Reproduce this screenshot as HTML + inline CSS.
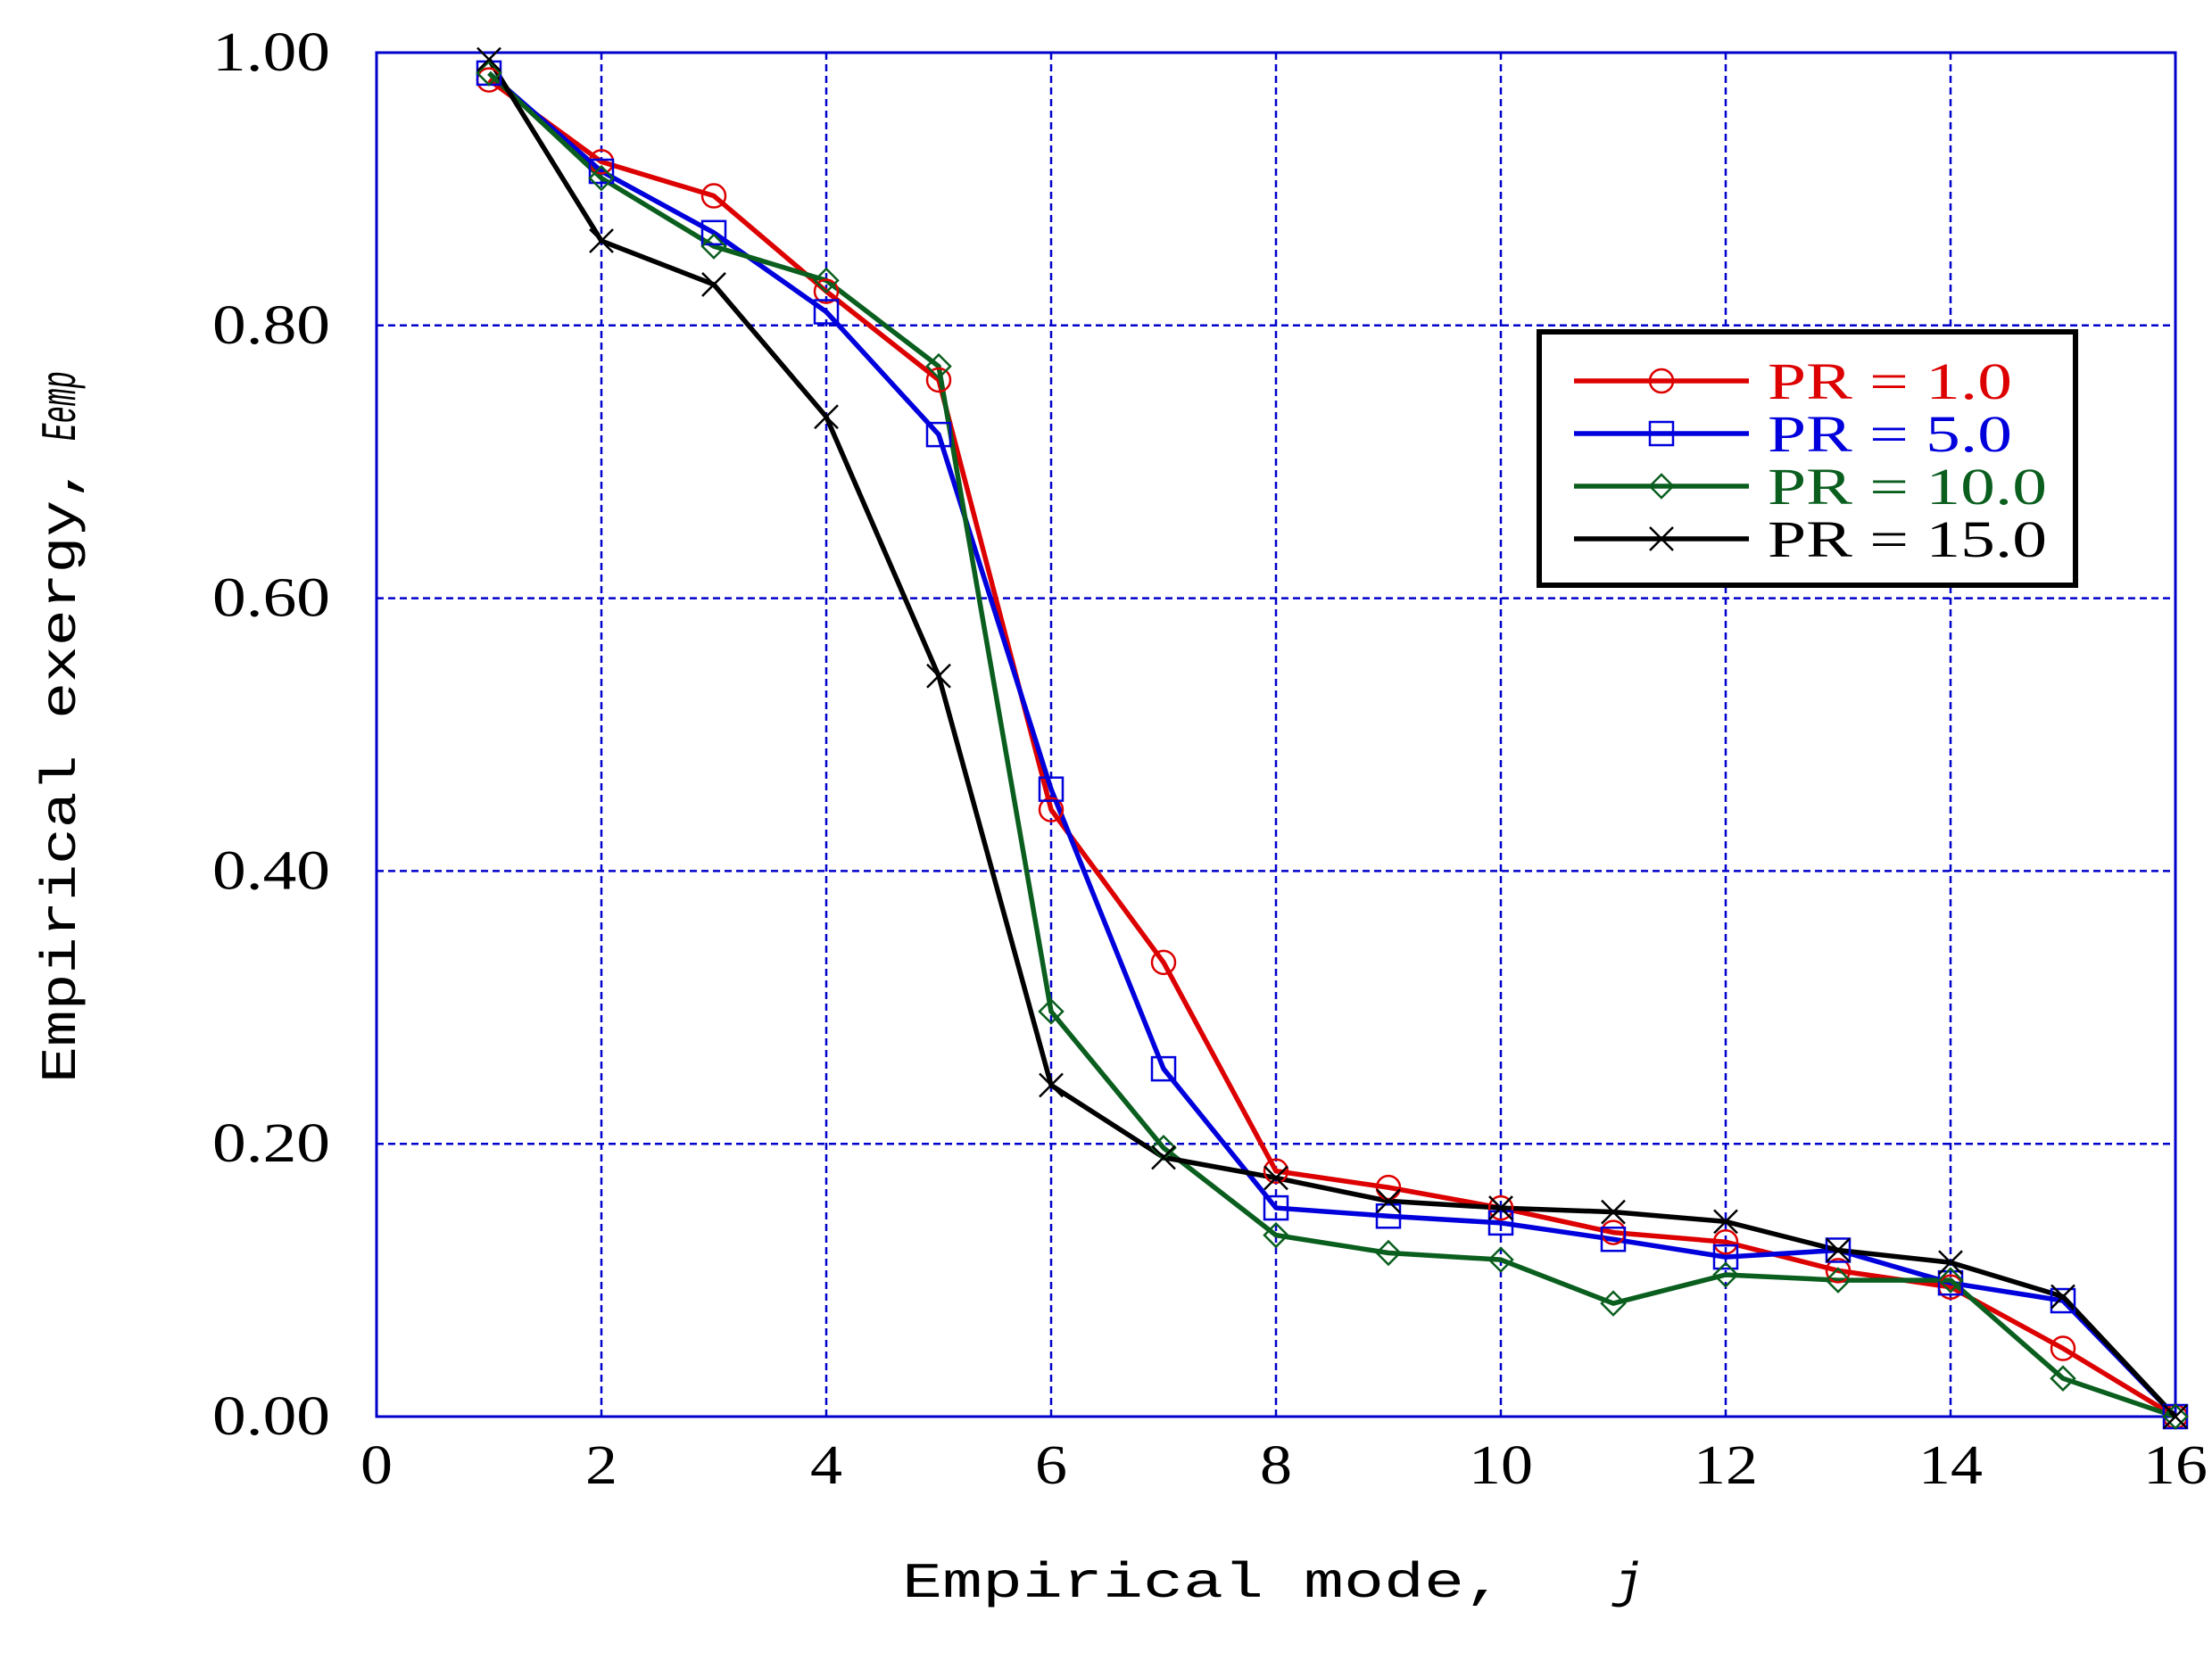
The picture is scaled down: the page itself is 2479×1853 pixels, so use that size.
<!DOCTYPE html>
<html><head><meta charset="utf-8"><style>
html,body{margin:0;padding:0;background:#fff;}
svg{display:block;}
</style></head><body>
<svg id="s" width="2479" height="1853" xmlns="http://www.w3.org/2000/svg">
<rect width="2479" height="1853" fill="#fff"/>
<g id="grid"></g>
<g id="data"></g>
<g font-family="Liberation Serif, serif" font-size="62" fill="#000" id="ticks"></g>
<g transform="translate(84,0) rotate(-90)" font-family="Liberation Mono, monospace" font-size="56">
<text x="-1214" y="0" textLength="694" lengthAdjust="spacingAndGlyphs">Empirical exergy,</text>
<text x="-494" y="0" textLength="78" lengthAdjust="spacingAndGlyphs" font-style="italic">Eemp</text>
</g>
<text x="1011" y="1790" textLength="675" lengthAdjust="spacingAndGlyphs" font-family="Liberation Mono, monospace" font-size="56">Empirical mode,</text>
<text x="1808" y="1790" font-style="italic" font-family="Liberation Mono, monospace" font-size="56">j</text>
<g id="legend">
<rect x="1725" y="372" width="601" height="284" fill="#fff" stroke="#000" stroke-width="6"/>
</g>
</svg>
<script>
var L=422,R=2438,T=59,B=1588;
function X(v){return L+(R-L)*v/16;}
function Y(v){return B-(B-T)*v;}
var ns="http://www.w3.org/2000/svg";
function el(p,t,a){var e=document.createElementNS(ns,t);for(var k in a)e.setAttribute(k,a[k]);p.appendChild(e);return e;}
var g=document.getElementById('grid');
for(var i=2;i<16;i+=2)el(g,'line',{x1:X(i),x2:X(i),y1:T,y2:B,stroke:'#0000cc','stroke-width':2.5,'stroke-dasharray':'8,5'});
for(var j=1;j<5;j++)el(g,'line',{x1:L,x2:R,y1:Y(j*0.2),y2:Y(j*0.2),stroke:'#0000cc','stroke-width':2.5,'stroke-dasharray':'8,5'});
el(g,'rect',{x:L,y:T,width:R-L,height:B-T,fill:'none',stroke:'#0000cc','stroke-width':3});
var tk=document.getElementById('ticks');
for(var j=0;j<=5;j++){var t=el(tk,'text',{x:238,y:Y(j*0.2)+20,textLength:132,lengthAdjust:'spacingAndGlyphs'});t.textContent=(j*0.2).toFixed(2);}
for(var i=0;i<=16;i+=2){var w=i<10?36:72;var t=el(tk,'text',{x:X(i)-w/2,y:1663,textLength:w,lengthAdjust:'spacingAndGlyphs'});t.textContent=i;}
var S=[
['#dd0000','c',[0.98,0.92,0.895,0.825,0.76,0.445,0.333,0.18,0.168,0.153,0.135,0.128,0.107,0.095,0.05,0]],
['#0000dd','s',[0.985,0.913,0.868,0.81,0.72,0.46,0.255,0.153,0.147,0.142,0.13,0.117,0.122,0.098,0.085,0]],
['#0a5e1e','d',[0.985,0.908,0.858,0.833,0.77,0.297,0.197,0.133,0.12,0.115,0.083,0.104,0.1,0.1,0.028,0]],
['#000000','x',[0.995,0.862,0.83,0.733,0.543,0.243,0.19,0.175,0.158,0.153,0.15,0.143,0.122,0.113,0.088,0]]];
function mk(p,type,c,x,y){
 if(type=='c')el(p,'circle',{cx:x,cy:y,r:13,fill:'none',stroke:c,'stroke-width':2.5});
 if(type=='s')el(p,'rect',{x:x-13,y:y-13,width:26,height:26,fill:'none',stroke:c,'stroke-width':2.5});
 if(type=='d')el(p,'polygon',{points:(x)+','+(y-13)+' '+(x+13)+','+y+' '+x+','+(y+13)+' '+(x-13)+','+y,fill:'none',stroke:c,'stroke-width':2.5});
 if(type=='x'){el(p,'path',{d:'M'+(x-13)+' '+(y-13)+'L'+(x+13)+' '+(y+13)+'M'+(x+13)+' '+(y-13)+'L'+(x-13)+' '+(y+13),stroke:c,'stroke-width':2.5});}
}
var d=document.getElementById('data');
S.forEach(function(s){var pts=s[2].map(function(v,i){return X(i+1)+','+Y(v);}).join(' ');
 el(d,'polyline',{points:pts,fill:'none',stroke:s[0],'stroke-width':5.5,'stroke-linejoin':'round'});});
S.forEach(function(s){s[2].forEach(function(v,i){mk(d,s[1],s[0],X(i+1),Y(v));});});
var lg=document.getElementById('legend');
var labs=['PR = 1.0','PR = 5.0','PR = 10.0','PR = 15.0'],ys=[427,486,545,604],wl=[274,274,313,313];
S.forEach(function(s,i){el(lg,'line',{x1:1764,x2:1960,y1:ys[i],y2:ys[i],stroke:s[0],'stroke-width':5.5});mk(lg,s[1],s[0],1862,ys[i]);
 var t=el(lg,'text',{x:1981,y:ys[i]+20,fill:s[0],'font-family':'Liberation Serif, serif','font-size':58,textLength:wl[i],lengthAdjust:'spacingAndGlyphs'});t.textContent=labs[i];});
</script>
</body></html>
